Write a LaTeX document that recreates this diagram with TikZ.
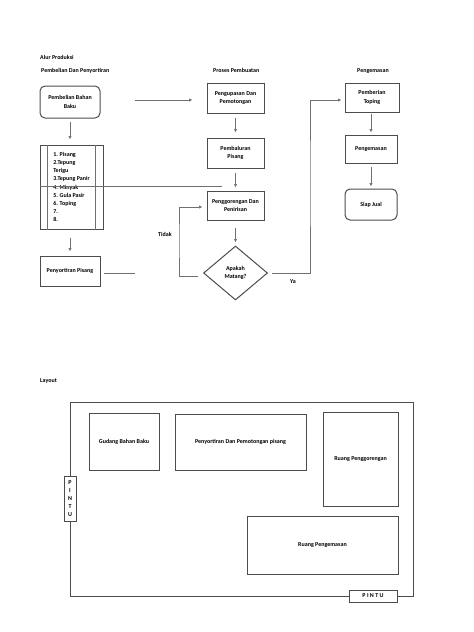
\documentclass[tikz,border=0pt]{standalone}
\usepackage{fontspec}
\setmainfont{Carlito}
\usetikzlibrary{arrows.meta}
\usetikzlibrary{positioning, shapes.geometric}
\definecolor{garis}{gray}{0.3}
\tikzset{
	proses/.style={draw=garis,line width=1pt,align=center,inner sep=0pt,font=\fontsize{6}{8.2}\selectfont\bfseries},
	mulai/.style={proses,rounded corners=5pt},
	judul/.style={anchor=base west,inner sep=0pt,font=\fontsize{6}{8.2}\selectfont\bfseries},
	ruang/.style={proses,fill=white},
	alir/.style={draw=garis!80,line width=0.8pt,shorten <=3pt,-{Latex[length=3.5pt,width=3.5pt]}},
	garisan/.style={draw=garis!80,line width=0.8pt}
}
\begin{document}
\begin{tikzpicture}[x=1pt,y=-1pt,node distance=55pt,on grid]
	\useasboundingbox (0,0) rectangle (474,632);
	% judul
	\node[judul] (alur) at (40,59) {Alur Produksi};
	\node[judul] (beli) at (41,72) {Pembelian Dan Penyortiran};
	\node[judul] (buat) at (213,72) {Proses Pembuatan};
	\node[judul] (kemas) at (357,72) {Pengemasan};
	\node[judul] (layout) at (40,382) {Layout};
	% kolom kiri
	\node[mulai,minimum width=60pt,minimum height=32pt] (pembelian) at (70,102) {Pembelian Bahan\\Baku};
	\node[proses,minimum width=63pt,minimum height=84pt,align=left] (bahan) at (71.5,187) {1. Pisang\\2.Tepung\\Terigu\\3.Tepung Panir\\4. Minyak\\5. Gula Pasir\\6. Toping\\7.\\8.};
	\draw[garisan] ([xshift=7.5pt]bahan.north west) -- ([xshift=7.5pt]bahan.south west);
	\draw[garisan] ([xshift=-8pt]bahan.north east) -- ([xshift=-8pt]bahan.south east);
	\node[proses,minimum width=60pt,minimum height=30pt] (sortir) at (70,271) {Penyortiran Pisang};
	% kolom tengah
	\node[proses,minimum width=57pt,minimum height=30pt] (kupas) at (235.5,98) {Pengupasan Dan\\Pemotongan};
	\node[proses,minimum width=57pt,minimum height=30pt] (balur) [below=of kupas] {Pembaluran\\Pisang};
	\node[proses,minimum width=57pt,minimum height=29pt] (goreng) [below=52.5pt of balur] {Penggorengan Dan\\Penirisan};
	\node[proses,diamond,aspect=1.18,minimum width=64pt,minimum height=54pt] (matang) [below=67.5pt of goreng] {Apakah\\Matang?};
	% kolom kanan
	\node[proses,minimum width=54pt,minimum height=29pt] (toping) at (372,97.5) {Pemberian\\Toping};
	\node[proses,minimum width=52pt,minimum height=28pt] (kemasan) at (371,149) {Pengemasan};
	\node[mulai,minimum width=52pt,minimum height=31pt] (jual) at (371,204.5) {Siap Jual};
	% titik bantu
	\coordinate (belokbawah) at (135,273);
	\coordinate (belokatas) at (135,100);
	\coordinate (ujungminyak) at (222,186);
	\coordinate (sudutkiri) at (179,240);
	\coordinate (sudutkanan) at (310,180);
	% label
	\node[judul] (tidak) at (158,236) {Tidak};
	\node[judul] (ya) at (290,283) {Ya};
	% alur
	\draw[alir,shorten >=5pt] (pembelian.south) -- (pembelian.south |- bahan.north);
	\draw[alir,shorten <=8pt,shorten >=4pt] (sortir.north |- bahan.south) -- (sortir.north);
	\draw[garisan,shorten <=3pt] ([yshift=-2pt]sortir.east) -- (belokbawah);
	\draw[alir,shorten <=0pt,shorten >=14pt] (belokatas) -- (belokatas -| kupas.west);
	\draw[garisan] ([yshift=1pt]bahan.west) -- (ujungminyak);
	\draw[alir,shorten <=4pt,shorten >=5pt] (kupas.south) -- (balur.north);
	\draw[alir,shorten <=4pt,shorten >=3pt] (balur.south) -- (goreng.north);
	\draw[alir,shorten <=7pt,shorten >=3pt] (goreng.south) -- (matang.north);
	\draw[alir,shorten <=5pt,shorten >=4pt] ([yshift=-3pt]matang.west) -| (sudutkiri) |- ([yshift=-1.5pt]goreng.west);
	\draw[alir,shorten <=4pt,shorten >=3pt] (matang.east) -| (sudutkanan) |- ([yshift=-2.5pt]toping.west);
	\draw[alir,shorten <=1pt,shorten >=2pt] (toping.south -| kemasan.north) -- (kemasan.north);
	\draw[alir,shorten >=2pt] (kemasan.south) -- (jual.north);
	% layout
	\node[proses,minimum width=343pt,minimum height=194pt] (denah) at (241.5,499) {};
	\node[proses,minimum width=70pt,minimum height=57pt] (gudang) at (124,441.5) {Gudang Bahan Baku};
	\node[proses,minimum width=131pt,minimum height=56pt] (potong) at (240.5,442) {Penyortiran Dan Pemotongan pisang};
	\node[proses,minimum width=75pt,minimum height=94pt] (ruanggoreng) at (360.5,459) {Ruang Penggorengan};
	\node[proses,minimum width=151pt,minimum height=58pt] (ruangkemas) at (322.5,545) {Ruang Pengemasan};
	\node[ruang,minimum width=12pt,minimum height=45pt] (pintukiri) at (70,498.5) {P\\I\\N\\T\\U};
	\node[ruang,minimum width=48pt,minimum height=12pt] (pintubawah) at (373,596) {P I N T U};
\end{tikzpicture}
\end{document}
